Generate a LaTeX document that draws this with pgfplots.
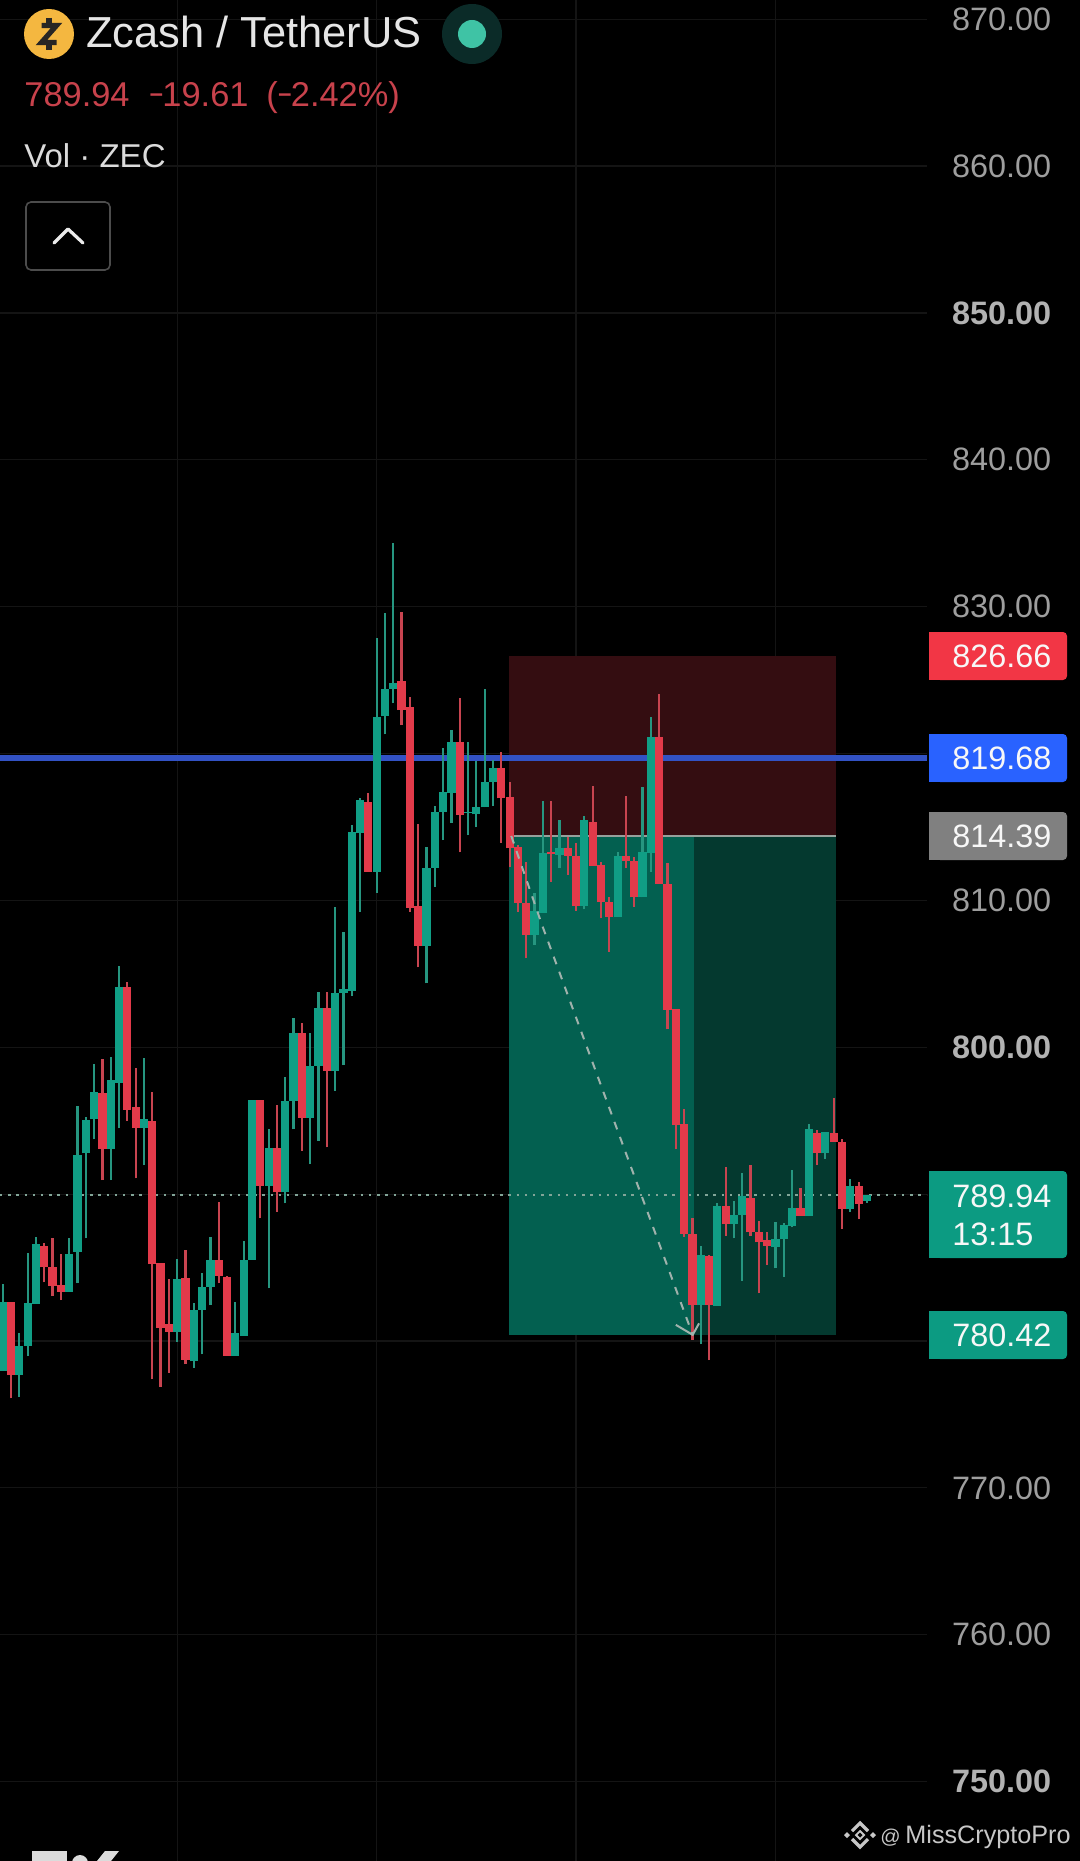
\documentclass[border=0pt]{standalone}
\usepackage{pgfplots}
\usepackage{pgfplotstable}
\usepackage{fontspec}
\setmainfont{Liberation Sans}
\pgfplotsset{compat=1.18}
\definecolor{candG}{RGB}{16,158,133}
\definecolor{candR}{RGB}{226,58,74}
\definecolor{wickG}{RGB}{38,150,128}
\definecolor{wickR}{RGB}{200,68,80}
\definecolor{boxR}{RGB}{52,13,17}
\definecolor{boxG}{RGB}{3,96,80}
\definecolor{boxD}{RGB}{4,57,47}
\definecolor{gridc}{RGB}{20,20,20}
\definecolor{blueL}{RGB}{50,82,196}
\definecolor{tickc}{RGB}{158,158,158}
\definecolor{tickb}{RGB}{178,178,178}
\definecolor{lblR}{RGB}{242,54,69}
\definecolor{lblB}{RGB}{41,98,255}
\definecolor{lblGy}{RGB}{128,128,128}
\definecolor{lblG}{RGB}{12,155,130}
\definecolor{hdrR}{RGB}{200,66,76}
\pgfplotstableread{
n o h l c
0 777.96 783.88 777.96 782.68
2 777.68 780.52 776.21 779.68
3 779.68 785.97 778.98 782.56
4 782.52 787.06 782.52 786.58
8 783.34 786.99 783.34 785.90
9 786.08 796.00 783.93 792.64
10 792.78 795.23 786.99 795.05
11 795.12 798.86 793.73 796.96
13 793.07 799.32 790.96 797.77
14 797.59 805.56 794.48 804.13
17 794.50 799.29 791.98 795.09
21 780.61 785.56 779.95 784.20
23 778.61 782.56 778.18 782.11
24 782.11 784.61 779.09 783.70
25 783.68 787.06 782.45 785.52
28 779.00 782.65 779.00 780.52
29 780.34 786.83 780.34 785.49
30 785.52 796.41 785.52 796.41
32 790.58 794.41 783.59 793.12
34 790.12 797.95 789.37 796.32
35 796.32 801.97 794.41 800.95
37 795.21 800.95 792.05 798.75
38 798.72 803.74 793.64 802.65
40 798.41 809.52 797.04 803.67
41 803.67 807.82 798.79 803.94
42 803.83 815.13 803.49 814.68
43 814.56 816.95 809.23 816.83
45 811.95 827.84 810.52 822.46
46 822.55 829.54 821.30 824.37
47 824.39 834.31 823.42 824.78
51 806.89 813.61 804.35 812.22
52 812.22 816.45 810.93 816.04
53 816.04 820.40 814.11 817.35
54 817.29 821.60 815.29 820.81
56 815.92 820.76 814.45 816.04
57 815.86 819.51 814.97 816.38
58 816.33 824.37 816.33 818.08
59 818.08 819.56 816.42 818.99
64 807.65 810.48 806.96 809.28
65 809.17 816.77 809.17 813.21
67 813.09 815.48 812.19 813.55
70 809.64 815.77 809.39 815.48
74 808.89 813.32 808.89 813.05
77 810.21 817.70 810.21 813.32
78 813.25 822.51 811.96 821.11
84 782.45 786.49 779.79 785.85
86 782.38 789.42 782.38 789.21
88 787.96 789.53 786.99 788.58
89 788.58 791.41 784.11 789.89
93 786.42 788.12 784.95 786.92
94 786.92 788.01 784.38 787.90
95 787.83 791.64 787.74 789.03
97 788.51 794.75 788.51 794.41
99 792.78 794.25 792.39 794.25
102 788.96 791.01 788.80 790.57
104 789.55 789.94 789.42 789.94
}\greenT
\pgfplotstableread{
n o h l c
1 782.63 782.63 776.10 777.68
5 786.47 786.65 783.99 785.02
6 785.02 786.99 783.06 783.74
7 783.79 785.92 782.79 783.34
12 796.86 799.18 790.96 793.07
15 804.13 804.47 794.98 795.73
16 795.91 798.57 791.08 794.50
18 794.96 796.98 777.39 785.24
19 785.29 785.29 776.89 780.88
20 781.13 784.20 777.84 780.63
22 784.29 786.20 778.43 778.71
26 785.52 789.44 783.93 784.43
27 784.38 784.43 779.00 779.00
31 796.41 796.41 788.35 790.58
33 793.12 796.07 788.81 790.12
36 800.95 801.63 792.96 795.21
39 802.65 803.74 793.19 798.41
44 816.72 817.29 811.95 811.95
48 824.91 829.66 821.94 822.96
49 823.14 823.87 809.23 809.50
50 809.64 815.20 805.44 806.89
55 820.81 823.76 813.27 815.81
60 818.99 820.12 813.93 816.95
61 817.06 818.04 812.29 813.54
62 813.62 813.77 809.23 809.85
63 809.85 812.64 806.06 807.65
66 813.27 816.77 811.28 813.16
68 813.55 814.34 811.73 813.05
69 813.05 813.89 809.28 809.64
71 815.36 817.79 812.37 812.37
72 812.41 812.64 808.78 809.92
73 809.92 810.26 806.51 808.89
75 813.05 817.11 812.19 812.68
76 812.68 812.98 809.57 810.21
79 821.11 824.06 811.12 811.12
80 811.12 812.57 801.22 802.54
81 802.58 802.58 793.05 794.71
82 794.75 795.77 787.10 787.28
83 787.28 788.35 780.07 782.45
85 785.81 785.85 778.70 782.45
87 789.21 791.87 787.15 787.96
90 789.71 791.98 787.15 787.40
91 787.40 788.19 783.24 786.72
92 786.88 787.40 785.17 786.47
96 789.03 790.44 788.51 788.51
98 794.14 794.37 791.98 792.78
100 794.18 796.52 793.57 793.57
101 793.57 793.75 787.62 788.96
103 790.57 790.85 788.28 789.33
}\redT
\newcommand{\mn}{\scalebox{.7}[1]{−}}
\newcommand{\lbl}[5]{%
  \fill[#3,rounded corners=2pt] (936,#1) rectangle (1067,#2);
  \fill[#3] (929,#1) rectangle (944,#2);
  \node[anchor=base west,inner sep=0pt,text=white!94!gray,font=\fontsize{16.2}{16.2}\selectfont] at (952,#4) {#5};
}
\begin{document}
\begin{tikzpicture}
\useasboundingbox (0pt,0pt) rectangle (540pt,-930.5pt);
\fill[black] (0pt,0pt) rectangle (540pt,-930.5pt);
\begin{axis}[
  at={(0pt,0pt)},anchor=north west,
  scale only axis,width=463.5pt,height=930.5pt,
  xmin=-0.325,xmax=111.23,ymin=744.59,ymax=871.31,
  axis line style={draw=none},
  tick style={draw=none},
  major tick length=0pt,
  grid=major,
  grid style={gridc,line width=.6pt},
  xtick={21,45,69,93},
  xticklabels={,,,},
  ytick={750,760,770,780,790,800,810,820,830,840,850,860,870},
  yticklabels={\bfseries\color{tickb}750.00,760.00,770.00,{},{},\bfseries\color{tickb}800.00,810.00,{},830.00,840.00,\bfseries\color{tickb}850.00,860.00,870.00},
  yticklabel pos=right,
  yticklabel style={anchor=west,inner xsep=0pt,outer sep=0pt,xshift=12.5pt,text=tickc,font=\fontsize{16.2}{16.2}\selectfont},
]
% position tool
\addplot[fill=boxR,draw=none,mark=none,forget plot] coordinates {(60.93,826.66)(100.28,826.66)(100.28,814.39)(60.93,814.39)};
\addplot[fill=boxG,draw=none,mark=none,forget plot] coordinates {(60.93,814.39)(83.19,814.39)(83.19,780.42)(60.93,780.42)};
\addplot[fill=boxD,draw=none,mark=none,forget plot] coordinates {(83.19,814.39)(100.28,814.39)(100.28,780.42)(83.19,780.42)};
\addplot[draw={rgb,255:red,150;green,160;blue,156},line width=.7pt,mark=none,forget plot] coordinates {(60.93,814.39)(100.28,814.39)};
% horizontal levels
\addplot[draw=blueL,line width=2.8pt,mark=none,forget plot] coordinates {(-0.325,819.68)(111.23,819.68)};
\addplot[draw={rgb,255:red,130;green,165;blue,152},line width=1pt,dash pattern=on 1.2pt off 2.9pt,mark=none,forget plot] coordinates {(-0.325,789.94)(111.23,789.94)};
% wicks
\addplot[draw=none,no markers,forget plot,error bars/.cd,y dir=plus,y explicit,error mark=none,error bar style={line width=1.1pt,draw=wickG}] table[x=n,y=l,y error expr=\thisrow{h}-\thisrow{l}] {\greenT};
\addplot[draw=none,no markers,forget plot,error bars/.cd,y dir=plus,y explicit,error mark=none,error bar style={line width=1.1pt,draw=wickR}] table[x=n,y=l,y error expr=\thisrow{h}-\thisrow{l}] {\redT};
% bodies
\addplot[draw=none,no markers,forget plot,error bars/.cd,y dir=plus,y explicit,error mark=none,error bar style={line width=4.1pt,draw=candG}] table[x=n,y=o,y error expr=\thisrow{c}-\thisrow{o}] {\greenT};
\addplot[draw=none,no markers,forget plot,error bars/.cd,y dir=plus,y explicit,error mark=none,error bar style={line width=4.1pt,draw=candR}] table[x=n,y=c,y error expr=\thisrow{o}-\thisrow{c}] {\redT};
% projection arrow
\addplot[draw={rgb,255:red,160;green,178;blue,172},line width=1pt,dash pattern=on 4pt off 4pt,mark=none,forget plot] coordinates {(61.2,814.39)(64.9,808.33)(83.03,780.42)};
\addplot[draw={rgb,255:red,160;green,178;blue,172},line width=1pt,mark=none,forget plot] coordinates {(81.0,781.1)(83.03,780.42)(83.8,781.2)};
\end{axis}
\begin{scope}[x=.5pt,y=-.5pt]
% header
\fill[color={rgb,255:red,244;green,183;blue,64}] (49,34) circle (25);
\draw[color={rgb,255:red,40;green,38;blue,36},line width=2.6pt,line join=miter] (41.5,25.5) -- (56.5,25.5) -- (41.5,42.5) -- (56.5,42.5);
\draw[color={rgb,255:red,40;green,38;blue,36},line width=2.6pt] (49,18) -- (49,25) (49,43) -- (49,50);
\node[anchor=base west,inner sep=0pt,text=white!90!black,font=\fontsize{21.7}{21.7}\selectfont] at (86,48) {Zcash / TetherUS};
\fill[color={rgb,255:red,11;green,43;blue,40}] (472,34) circle (30);
\fill[color={rgb,255:red,63;green,195;blue,165}] (472,34) circle (14);
\node[anchor=base west,inner sep=0pt,text=hdrR,font=\fontsize{17.2}{17.2}\selectfont] at (24,107) {789.94};
\node[anchor=base west,inner sep=0pt,text=hdrR,font=\fontsize{17.2}{17.2}\selectfont] at (149,107) {\mn\kern-.5pt 19.61};
\node[anchor=base west,inner sep=0pt,text=hdrR,font=\fontsize{17.2}{17.2}\selectfont] at (266,107) {(\mn\kern-.5pt 2.42\%)};
\node[anchor=base west,inner sep=0pt,text=white!86!black,font=\fontsize{16.5}{16.5}\selectfont] at (24,168) {Vol · ZEC};
\draw[color=white!30!black,line width=.8pt,rounded corners=2.5pt] (26,202) rectangle (110,270);
\draw[white!92!black,line width=1.6pt,line cap=round,line join=round] (54,243) -- (68,229) -- (83,243);
% price labels
\lbl{632}{680}{lblR}{667}{826.66}
\lbl{734}{782}{lblB}{769.5}{819.68}
\lbl{812}{860}{lblGy}{847.5}{814.39}
\lbl{1171}{1258}{lblG}{1207}{789.94}
\node[anchor=base west,inner sep=0pt,text=white!94!gray,font=\fontsize{16.2}{16.2}\selectfont] at (952,1245.5) {13:15};
\lbl{1311}{1359}{lblG}{1346.5}{780.42}
% watermark
\draw[white!78!black,line width=1.6pt,line join=miter] (852,1831) -- (860,1823) -- (868,1831) (852,1839) -- (860,1847) -- (868,1839);
\fill[white!78!black] (847,1832) -- (850,1835) -- (847,1838) -- (844,1835) -- cycle (873,1832) -- (876,1835) -- (873,1838) -- (870,1835) -- cycle;
\draw[white!78!black,line width=.9pt] (860,1831) -- (864,1835) -- (860,1839) -- (856,1835) -- cycle;
\node[anchor=base west,inner sep=0pt,text=white!78!black,font=\fontsize{10}{10}\selectfont] at (880,1843) {@};
\node[anchor=base west,inner sep=0pt,text=white!78!black,font=\fontsize{12.6}{12.6}\selectfont] at (905,1843) {MissCryptoPro};
% cut-off logo
\fill[white!86!black] (32,1851) rectangle (67,1861);
\fill[white!86!black] (80,1863) circle (8);
\fill[white!86!black] (97,1861) -- (105,1851) -- (119,1851) -- (111,1861) -- cycle;
\end{scope}
\end{tikzpicture}
\end{document}
